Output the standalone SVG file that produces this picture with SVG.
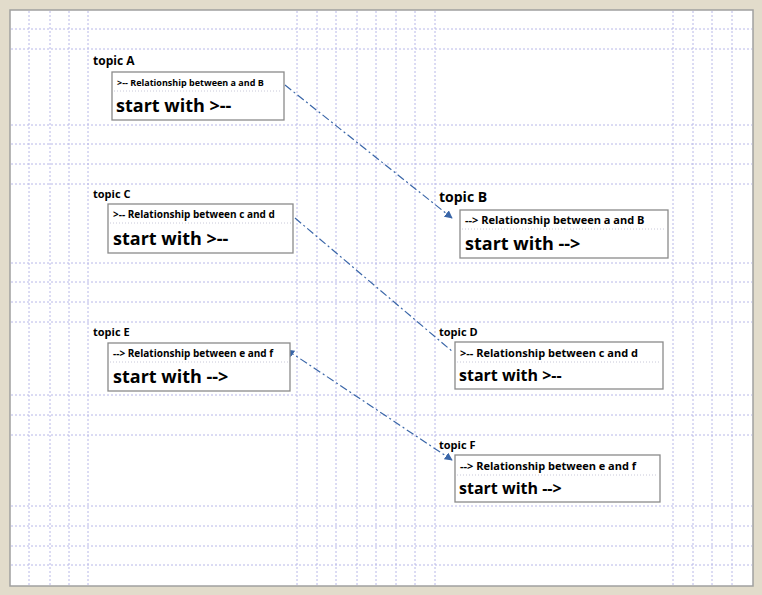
<svg xmlns="http://www.w3.org/2000/svg" width="762" height="595" viewBox="0 0 762 595">
<style>
.g{stroke:#b8b8e8;stroke-width:1;stroke-dasharray:2,2}
.box{fill:#fff;stroke:#8a8a8a;stroke-width:1.3}
.sep{stroke:#c8c8d8;stroke-dasharray:1,2}
.t{font-family:"Open Sans","DejaVu Sans",sans-serif;font-weight:bold;fill:#000}
.lbl{font-size:12px}
.sm{font-size:11px}
.big{font-size:18px}
.c{fill:none;stroke:#3a66a8;stroke-width:1.2;stroke-dasharray:8,3,2,3}
</style>
<defs>
<marker id="ah" viewBox="0 0 10 10" refX="9" refY="5" markerWidth="8" markerHeight="8" orient="auto-start-reverse" markerUnits="userSpaceOnUse"><path d="M0,0L10,5L0,10z" fill="#3a66a8"/></marker>
</defs>
<rect width="762" height="595" fill="#e2dccb"/>
<rect x="10" y="10" width="743" height="576" fill="#fff" stroke="#a0a0a0" stroke-width="1.5"/>
<g id="grid">
<path class="g" d="M29,11V585M50,11V585M69,11V585M88,11V585M297,11V585M317,11V585M336,11V585M357,11V585M376,11V585M396,11V585M415,11V585M435,11V585M673,11V585M693,11V585M712,11V585M732,11V585"/>
<path class="g" d="M11,29H752M11,49H752M11,125H752M11,144H752M11,164H752M11,184H752M11,263H752M11,282H752M11,302H752M11,322H752M11,395H752M11,415H752M11,435H752M11,506H752M11,526H752M11,546H752M11,565H752"/>
</g>
<g id="connectors">
<path class="c" d="M285,85L452,218" marker-end="url(#ah)"/>
<path class="c" d="M295,218L453,352"/>
<path class="c" d="M287,350L452,460" marker-start="url(#ah)" marker-end="url(#ah)"/>
</g>
<g id="nodeA">
<text class="t lbl" x="93" y="65">topic A</text>
<rect class="box" x="112" y="72" width="172" height="48"/>
<line class="sep" x1="114" y1="91" x2="282" y2="91"/>
<text class="t" x="117" y="86" font-size="9">&gt;-- Relationship between a and B</text>
<text class="t big" x="116" y="112">start with &gt;--</text>
</g>
<g id="nodeB">
<text class="t" x="439" y="202" font-size="14">topic B</text>
<rect class="box" x="460" y="210" width="208" height="48"/>
<line class="sep" x1="462" y1="229" x2="666" y2="229"/>
<text class="t sm" x="465" y="224">--&gt; Relationship between a and B</text>
<text class="t big" x="465" y="250">start with --&gt;</text>
</g>
<g id="nodeC">
<text class="t sm" x="93" y="198">topic C</text>
<rect class="box" x="108" y="204" width="185" height="49"/>
<line class="sep" x1="110" y1="223" x2="291" y2="223"/>
<text class="t" x="113" y="218" font-size="10">&gt;-- Relationship between c and d</text>
<text class="t big" x="113" y="245">start with &gt;--</text>
</g>
<g id="nodeD">
<text class="t sm" x="439" y="336">topic D</text>
<rect class="box" x="455" y="342" width="208" height="47"/>
<line class="sep" x1="457" y1="362" x2="661" y2="362"/>
<text class="t sm" x="460" y="357">&gt;-- Relationship between c and d</text>
<text class="t" x="459" y="381" font-size="16">start with &gt;--</text>
</g>
<g id="nodeE">
<text class="t sm" x="93" y="336">topic E</text>
<rect class="box" x="108" y="343" width="182" height="48"/>
<line class="sep" x1="110" y1="362" x2="288" y2="362"/>
<text class="t" x="113" y="357" font-size="10">--&gt; Relationship between e and f</text>
<text class="t big" x="113" y="383">start with --&gt;</text>
</g>
<g id="nodeF">
<text class="t sm" x="439" y="449">topic F</text>
<rect class="box" x="455" y="455" width="205" height="47"/>
<line class="sep" x1="457" y1="475" x2="658" y2="475"/>
<text class="t sm" x="460" y="470">--&gt; Relationship between e and f</text>
<text class="t" x="459" y="494" font-size="16">start with --&gt;</text>
</g>
</svg>
